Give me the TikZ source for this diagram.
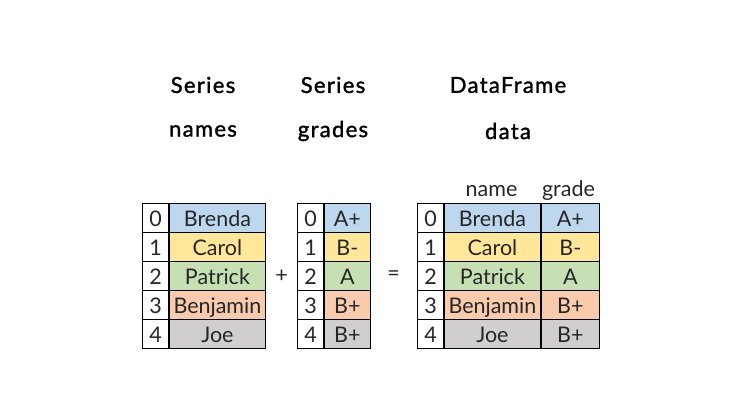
\documentclass[tikz,border=0pt]{standalone}
\usepackage{fontspec}
\setmainfont{Lato}
\usepackage{tikz}
\usetikzlibrary{positioning}
\definecolor{cblue}{HTML}{BDD7EE}
\definecolor{cyellow}{HTML}{FFE699}
\definecolor{cgreen}{HTML}{C6E0B4}
\definecolor{corange}{HTML}{F8CBAD}
\definecolor{cgray}{HTML}{D0CECE}
\tikzset{
  cell/.style={draw, line width=0.9pt, minimum height=29pt, inner sep=0pt,
    text height=18pt, text depth=0.5pt, text=black!85, font=\fontsize{21.5}{24}\selectfont},
  title/.style={font=\fontsize{22}{26}\selectfont\addfontfeatures{LetterSpace=6,FakeBold=1.5}},
  head/.style={font=\fontsize{21.5}{24}\selectfont, text=black!85}
}

\begin{document}
\begin{tikzpicture}[x=1pt,y=-1pt]
  \useasboundingbox (0,0) rectangle (738,409);

  % titles
  \node[title] (t1) at (203,85) {Series};
  \node[title] (t2) at (333,85) {Series};
  \node[title] (t3) at (508,85) {DataFrame};
  \node[title] (v1) at (203,131) {names};
  \node[title] (v2) at (333,131) {grades};
  \node[title] (v3) at (508,131) {data};

  % the three tables
  \foreach \i/\nm/\gr/\col in {0/Brenda/A+/cblue, 1/Carol/B-/cyellow, 2/Patrick/A/cgreen,
                               3/Benjamin/B+/corange, 4/Joe/B+/cgray} {
    \node[cell, minimum width=26pt] (ai\i) at (155.5,{217.6+29*\i}) {\i};
    \node[cell, minimum width=96pt, fill=\col, right=0pt of ai\i] (an\i) {\nm};

    \node[cell, minimum width=26pt] (bi\i) at (310.5,{217.6+29*\i}) {\i};
    \node[cell, minimum width=46pt, fill=\col, right=0pt of bi\i] (bg\i) {\gr};

    \node[cell, minimum width=26pt] (ci\i) at (430.5,{217.6+29*\i}) {\i};
    \node[cell, minimum width=96pt, fill=\col, right=0pt of ci\i] (cn\i) {\nm};
    \node[cell, minimum width=58pt, fill=\col, right=0pt of cn\i] (cg\i) {\gr};
  }

  % column names
  \node[head] (hname) at (491.5,191) {name};
  \node[head] (hgrade) at (568.5,191) {grade};

  % operators
  \node[head] (plus) at (281.5,276) {+};
  \node[head] (eq) at (393.5,276) {=};
\end{tikzpicture}
\end{document}
